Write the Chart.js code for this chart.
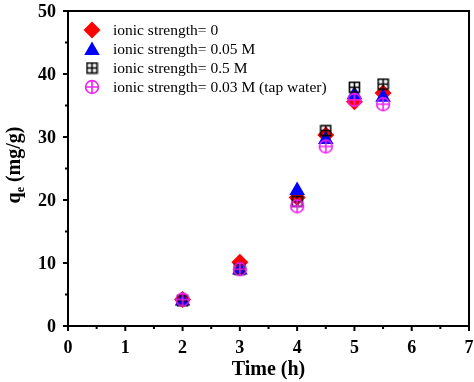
<!DOCTYPE html>
<html><head><meta charset="utf-8">
<script src="https://cdn.jsdelivr.net/npm/chart.js@4.4.0/dist/chart.umd.min.js"></script>
<style>html,body{margin:0;padding:0;background:#fff;}#wrap{width:474px;height:382px;}</style>
</head><body><div id="wrap"><canvas id="c" width="474" height="382"></canvas></div>
<script>
const timeH = [2, 3, 4, 4.5, 5, 5.5];
const qIonic0 = [4.2, 10.1, 20.4, 30.3, 35.6, 37.0];
const qIonic005 = [3.95, 8.9, 21.5, 29.6, 36.7, 36.3];
const qIonic05 = [4.0, 9.0, 19.8, 31.0, 37.9, 38.4];
const qTap = [4.2, 9.0, 19.0, 28.5, 35.9, 35.2];
const seriesLabels = ['ionic strength= 0', 'ionic strength= 0.05 M', 'ionic strength= 0.5 M', 'ionic strength= 0.03 M (tap water)'];
const xTickLabels = ['0','1','2','3','4','5','6','7'];
const yTickLabels = ['0','10','20','30','40','50'];

const RED = '#ff0000', BLUE = '#0000ff', BLACK = '#000000', MAG = '#ee22ee';

function squarePlus(){
  const c = document.createElement('canvas'); c.width = 13; c.height = 13;
  const g = c.getContext('2d'); g.strokeStyle = BLACK; g.lineWidth = 1.6;
  g.strokeRect(1.5, 1.5, 10, 10);
  g.beginPath(); g.moveTo(6.5, 1.5); g.lineTo(6.5, 11.5); g.moveTo(1.5, 6.5); g.lineTo(11.5, 6.5); g.stroke();
  return c;
}
function circlePlus(){
  const c = document.createElement('canvas'); c.width = 16; c.height = 16;
  const g = c.getContext('2d'); g.strokeStyle = MAG; g.lineWidth = 1.6;
  g.beginPath(); g.arc(8, 8, 6.4, 0, Math.PI * 2); g.stroke();
  g.beginPath(); g.moveTo(8, 1.6); g.lineTo(8, 14.4); g.moveTo(1.6, 8); g.lineTo(14.4, 8); g.stroke();
  return c;
}
const imgSq = squarePlus(), imgCi = circlePlus();

function pts(ys){ return timeH.map((t, i) => ({x: t, y: ys[i]})); }

const SERIF = "'Liberation Serif','Times New Roman',serif";

const decor = {
  id: 'decor',
  afterDraw(chart){
    const {ctx, chartArea: a, scales: {x, y}} = chart;
    ctx.save();
    ctx.strokeStyle = '#000'; ctx.lineWidth = 2;
    ctx.strokeRect(a.left, a.top, a.right - a.left, a.bottom - a.top);
    ctx.beginPath();
    for (let k = 0; k <= 14; k++){
      const v = k / 2, px = x.getPixelForValue(v), len = (k % 2 === 0) ? 5 : 3;
      ctx.moveTo(px, a.bottom); ctx.lineTo(px, a.bottom + len);
    }
    for (let k = 0; k <= 10; k++){
      const v = k * 5, py = y.getPixelForValue(v), len = (k % 2 === 0) ? 5 : 3;
      ctx.moveTo(a.left, py); ctx.lineTo(a.left - len, py);
    }
    ctx.stroke();

    // tick labels
    ctx.fillStyle = '#000';
    ctx.font = 'bold 18px ' + SERIF;
    ctx.textAlign = 'center'; ctx.textBaseline = 'alphabetic';
    xTickLabels.forEach(t => ctx.fillText(t, x.getPixelForValue(Number(t)), 353));
    ctx.textAlign = 'right'; ctx.textBaseline = 'middle';
    yTickLabels.forEach(t => ctx.fillText(t, 56, y.getPixelForValue(Number(t)) + 1));

    // axis titles
    ctx.font = 'bold 20px ' + SERIF;
    ctx.textAlign = 'center'; ctx.textBaseline = 'alphabetic';
    ctx.fillText('Time (h)', (a.left + a.right) / 2, 375);

    ctx.save();
    ctx.translate(20, 165);
    ctx.rotate(-Math.PI / 2);
    ctx.textAlign = 'left';
    ctx.font = 'bold 20px ' + SERIF;
    const w1 = ctx.measureText('q').width;
    ctx.font = 'bold 12px ' + SERIF;
    const w2 = ctx.measureText('e').width;
    ctx.font = 'bold 20px ' + SERIF;
    const w3 = ctx.measureText(' (mg/g)').width;
    let sx = -(w1 + w2 + w3) / 2;
    ctx.fillText('q', sx, 0); sx += w1;
    ctx.font = 'bold 12px ' + SERIF;
    ctx.fillText('e', sx, 4); sx += w2;
    ctx.font = 'bold 20px ' + SERIF;
    ctx.fillText(' (mg/g)', sx, 0);
    ctx.restore();

    // legend
    const lx = 92, tx = 113, rows = [30, 49, 68, 87];
    ctx.font = '15.5px ' + SERIF;
    ctx.textAlign = 'left'; ctx.textBaseline = 'middle';
    ctx.fillStyle = RED;
    ctx.beginPath(); ctx.moveTo(lx, rows[0] - 8.5); ctx.lineTo(lx + 8.5, rows[0]); ctx.lineTo(lx, rows[0] + 8.5); ctx.lineTo(lx - 8.5, rows[0]); ctx.closePath(); ctx.fill();
    ctx.fillStyle = BLUE;
    const r = 9, cy = rows[1] + 1.5;
    ctx.beginPath(); ctx.moveTo(lx, cy - r); ctx.lineTo(lx + r * 0.866, cy + r / 2); ctx.lineTo(lx - r * 0.866, cy + r / 2); ctx.closePath(); ctx.fill();
    ctx.drawImage(imgSq, lx - imgSq.width / 2, rows[2] - imgSq.height / 2);
    ctx.drawImage(imgCi, lx - imgCi.width / 2, rows[3] - imgCi.height / 2);
    ctx.fillStyle = '#000';
    seriesLabels.forEach((s, i) => ctx.fillText(s, tx, rows[i] + 1));
    ctx.restore();
  }
};

new Chart(document.getElementById('c'), {
  type: 'scatter',
  data: {
    datasets: [
      {label: seriesLabels[0], data: pts(qIonic0), pointStyle: 'rectRot', pointRadius: 8.5, backgroundColor: RED, borderColor: RED, borderWidth: 0, order: 3},
      {label: seriesLabels[1], data: pts(qIonic005), pointStyle: 'triangle', pointRadius: 9, backgroundColor: BLUE, borderColor: BLUE, borderWidth: 0, order: 2},
      {label: seriesLabels[2], data: pts(qIonic05), pointStyle: imgSq, pointRadius: 6, backgroundColor: BLACK, borderColor: BLACK, order: 1},
      {label: seriesLabels[3], data: pts(qTap), pointStyle: imgCi, pointRadius: 7, backgroundColor: MAG, borderColor: MAG, order: 0}
    ]
  },
  options: {
    responsive: false,
    animation: false,
    events: [],
    devicePixelRatio: 1,
    layout: {autoPadding: false, padding: {top: 11, right: 5, left: 0, bottom: 0}},
    plugins: {legend: {display: false}, tooltip: {enabled: false}, title: {display: false}},
    scales: {
      x: {
        type: 'linear', min: 0, max: 7,
        afterBuildTicks: s => { s.ticks = xTickLabels.map(v => ({value: Number(v)})); },
        afterFit: s => { s.height = 56; },
        grid: {display: false, drawTicks: false},
        border: {display: false},
        ticks: {display: false}
      },
      y: {
        type: 'linear', min: 0, max: 50,
        afterBuildTicks: s => { s.ticks = yTickLabels.map(v => ({value: Number(v)})); },
        afterFit: s => { s.width = 68; },
        grid: {display: false, drawTicks: false},
        border: {display: false},
        ticks: {display: false}
      }
    }
  },
  plugins: [decor]
});
</script>
</body></html>
